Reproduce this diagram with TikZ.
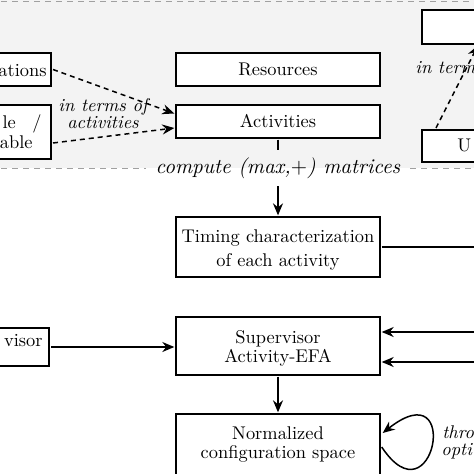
\documentclass[tikz,border=0pt]{standalone}
\usetikzlibrary{arrows.meta,calc}
\definecolor{bgc}{RGB}{243,243,243}
\definecolor{dashc}{RGB}{160,160,160}
\begin{document}
\begin{tikzpicture}[x=1pt,y=-1pt,
  big/.style={scale=1.84, transform shape},
  box/.style={draw, line width=1.8pt, fill=white, minimum width=110.9pt, inner sep=0pt, align=center, big, font=\fontsize{10}{13}\selectfont},
  txt/.style={inner sep=0pt, big, font=\fontsize{10}{13}\selectfont},
  lbl/.style={inner sep=0pt, align=center, big, font={\fontsize{10}{9}\selectfont\itshape\lineskiplimit=-20pt\relax}},
  conn/.style={line width=1.5pt},
  arr/.style={conn, -{Stealth[length=12pt,width=10pt]}},
  darr/.style={arr, dash pattern=on 5pt off 4pt},
  dashline/.style={draw=dashc, line width=0.9pt, dash pattern=on 6pt off 5pt},
]
\useasboundingbox (0,0) rectangle (474,474);
\clip (0,0) rectangle (474,474);
\fill[bgc] (-10,-10) rectangle (484,168);
\draw[dashline] (-10,1) -- (484,1);

% main column
\node[box, minimum height=17.93pt] (res) at (278,69.5) {Resources};
\node[box, minimum height=17.93pt] (act) at (278,121.5) {Activities};
\node[box, minimum height=32.6pt] (tim) at (278,247) {\rule{0pt}{10.6pt}Timing characterization\\of each activity};
\node[box, minimum height=31.5pt, font=\fontsize{10}{10.33}\selectfont] (sup) at (278,346) {\rule{0pt}{10.1pt}Supervisor\\Activity-EFA};
\node[box, minimum height=33.7pt, font=\fontsize{10}{10.33}\selectfont] (norm) at (278,445) {Normalized\\configuration space};

% left column (cut off)
\node[box, minimum width=65.2pt, minimum height=17.93pt, anchor=east] (spec) at (53,69.5) {};
\node[txt, anchor=base east] at (47,76) {ations};
\node[box, minimum width=65.2pt, minimum height=29.35pt, anchor=east] (sched) at (53,132) {};
\node[txt, anchor=base east] at (42,128) {le\hspace{9pt}/};
\node[txt, anchor=base east] at (33,148) {able};
\node[box, minimum width=65.2pt, minimum height=20.65pt, anchor=east] (supv) at (51,347) {};
\node[txt, anchor=base east] at (43,346) {visor};

% right column (cut off)
\node[box, minimum width=65.2pt, minimum height=18.48pt, anchor=north west] (tr) at (420,8) {};
\node[box, minimum width=65.2pt, minimum height=17.39pt, anchor=north west] (ub) at (420,128) {};
\node[txt, anchor=base west] at (457,151) {U};
\node[lbl, anchor=base west] at (415,73) {in term};

% label on the separator
\node[lbl, scale=1.14, inner xsep=4.5pt, inner ysep=3.6pt] (cmp) at (278,168) {compute (max,{\upshape+}) matrices};
\draw[dashline] (-10,168) -- (cmp.west);
\draw[dashline] (cmp.east) -- (484,168);

% connectors
\draw[conn] (act.south) -- (cmp.north);
\draw[arr] (cmp.south) -- (tim.north);
\draw[darr] (spec.east) -- ($(act.west)+(0,-8)$);
\draw[darr] ($(sched.east)+(0,11)$) -- ($(act.west)+(0,6.5)$);
\node[lbl] at (103,113.5) {in terms of\\activities};
\draw[darr] ($(ub.north west)+(16,0)$) -- ($(tr.south west)+(58,0)$);

\coordinate (r1) at (490,247);
\coordinate (r2) at (490,332);
\coordinate (r3) at (490,362);
\draw[conn] (tim.east) -- (r1);
\draw[arr] (r2) -- (sup.east |- r2);
\draw[arr] (r3) -- (sup.east |- r3);
\draw[arr] (supv.east) -- (sup.west |- supv.east);
\draw[arr] (sup.south) -- (norm.north);
\draw[arr] ($(norm.east)+(0,2)$) .. controls +(52,78) and +(80,-63) .. ($(norm.east)+(1,-12)$);
\node[lbl, anchor=base west] at (442,438) {thro};
\node[lbl, anchor=base west] at (441,455) {opti};
\end{tikzpicture}
\end{document}
